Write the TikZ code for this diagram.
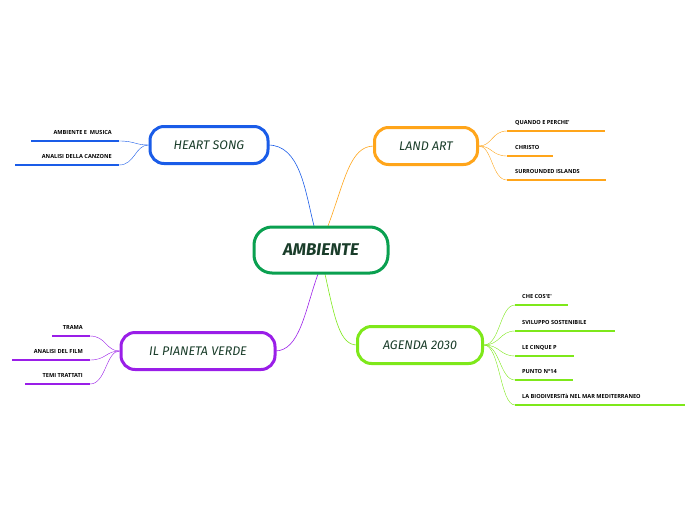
\documentclass[tikz,border=0pt]{standalone}
\usepackage{fontspec}
\setmainfont{Fira Sans}
\newfontfamily\leaf{Open Sans}
\begin{document}
\begin{tikzpicture}[x=1pt,y=-1pt,
 topic/.style={draw=#1,line width=3pt,rounded corners=14pt,fill=white,font=\itshape\fontsize{12.5}{13}\selectfont,text=txt,minimum height=34pt,inner xsep=12pt},
 lf/.style={font=\leaf\bfseries\fontsize{5.6}{6}\selectfont,inner sep=1pt},
 ln/.style={draw=#1,line width=1.2pt},
 cn/.style={draw=#1,line width=0.6pt}]
\definecolor{txt}{HTML}{1A3D2A}
\definecolor{cmain}{HTML}{0AA050}
\definecolor{cblue}{HTML}{1A5CE8}
\definecolor{corg}{HTML}{FFA51A}
\definecolor{cpur}{HTML}{9A1EE8}
\definecolor{clime}{HTML}{7EE81A}
\useasboundingbox (0,0) rectangle (696,520);
% connectors
\coordinate (mb) at (314,226); \coordinate (mo) at (328,226);
\coordinate (mp) at (318,274); \coordinate (mg) at (325,274);
\draw[cn=cblue] (mb) .. controls (305,190) and (300,145) .. (268,145);
\draw[cn=corg] (mo) .. controls (345,180) and (350,146) .. (374,146);
\draw[cn=cpur] (mp) .. controls (305,310) and (300,351) .. (275,351);
\draw[cn=clime] (mg) .. controls (335,320) and (340,345) .. (357,345);
\node[topic=cmain,font=\itshape\bfseries\fontsize{17}{18}\selectfont,minimum width=134pt,minimum height=46pt,rounded corners=18pt] (m) at (321,250) {AMBIENTE};
\node[topic=cblue,minimum width=118pt,minimum height=37pt] (hs) at (209,145) {HEART SONG};
\node[topic=corg,minimum width=103pt,minimum height=37pt] (la) at (426,146) {LAND ART};
\node[topic=cpur,minimum width=154pt,minimum height=37pt] (pv) at (198,351) {IL PIANETA VERDE};
\node[topic=clime,minimum width=125pt,minimum height=37pt] (ag) at (420,345) {AGENDA 2030};
% left leaves
\foreach \t/\y/\x/\n in {AMBIENTE E~~MUSICA/141/31/h1, ANALISI DELLA CANZONE/165/15/h2}{
  \coordinate (\n a) at (\x,\y); \coordinate (\n b) at (119,\y);
  \draw[ln=cblue] (\n a) -- (\n b);
  \node[lf,anchor=base east] at (113,\y-7) {\t};
  \draw[cn=cblue,line width=0.4pt] (\n b) .. controls (135,\y) and (135,145) .. (hs.west);
}
\foreach \t/\y/\x/\n in {TRAMA/336/52/p1, ANALISI DEL FILM/360/12/p2, TEMI TRATTATI/384/25/p3}{
  \coordinate (\n a) at (\x,\y); \coordinate (\n b) at (90,\y);
  \draw[ln=cpur] (\n a) -- (\n b);
  \node[lf,anchor=base east] at (84,\y-7) {\t};
  \draw[cn=cpur,line width=0.4pt] (\n b) .. controls (106,\y) and (106,351) .. (pv.west);
}
\foreach \t/\y/\x/\n in {QUANDO E PERCHE'/131/605/o1, CHRISTO/156/553/o2, SURROUNDED ISLANDS/180/606/o3}{
  \coordinate (\n a) at (507,\y); \coordinate (\n b) at (\x,\y);
  \draw[ln=corg] (\n a) -- (\n b);
  \node[lf,anchor=base west] at (514,\y-7) {\t};
  \draw[cn=corg,line width=0.4pt] (la.east) .. controls (492,146) and (492,\y) .. (\n a);
}
\foreach \t/\y/\x/\n in {CHE COS'E'/305/568/g1, SVILUPPO SOSTENIBILE/331/615/g2, LE CINQUE P/356/574/g3, PUNTO N°14/380/573/g4, LA BIODIVERSITà NEL MAR MEDITERRANEO/405/685/g5}{
  \coordinate (\n a) at (515,\y); \coordinate (\n b) at (\x,\y);
  \draw[ln=clime] (\n a) -- (\n b);
  \node[lf,anchor=base west] at (521,\y-7) {\t};
  \draw[cn=clime,line width=0.4pt] (ag.east) .. controls (500,345) and (500,\y) .. (\n a);
}
\end{tikzpicture}
\end{document}
